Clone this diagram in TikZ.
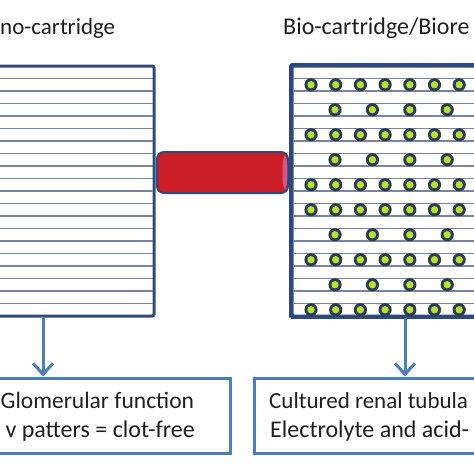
\documentclass[tikz,border=0pt]{standalone}
\usepackage{fontspec}
\setmainfont{Carlito}
\usepackage{xcolor}
\usepackage{tikz}
\usetikzlibrary{arrows.meta, positioning, calc}

\definecolor{cartblue}{HTML}{2E4A7D}
\definecolor{stripe}{HTML}{7884A6}
\definecolor{linkblue}{HTML}{4A7EBE}
\definecolor{tubered}{HTML}{CC1E26}
\definecolor{tubecap}{HTML}{D9557A}
\definecolor{cellring}{HTML}{2A3B55}
\definecolor{cellcore}{HTML}{B9E22C}
\definecolor{inktext}{HTML}{1F1F1F}

\begin{document}
\begin{tikzpicture}[x=1pt, y=-1pt,
    cartbox/.style={rectangle, draw=cartblue, line width=3pt, rounded corners=2pt, minimum width=#1, minimum height=250pt, inner sep=0pt},
    infobox/.style={rectangle, draw=linkblue, line width=3pt, minimum width=#1, minimum height=75pt, inner sep=0pt},
    title/.style={font=\fontsize{23}{27}\selectfont, text=inktext, inner sep=0pt},
    info/.style={font=\fontsize{24}{28}\selectfont, text=inktext, inner sep=0pt},
    stripeline/.style={draw=stripe, line width=1.5pt},
    arrow/.style={line width=3pt, draw=linkblue, -{Straight Barb[length=11pt, width=20pt]}}
]
    \useasboundingbox (0,0) rectangle (474,474);

    % Titles
    \node (nanotitle) [title, anchor=base west] at (0,34) {no-cartridge};
    \node (biotitle) [title, font=\fontsize{24}{28}\selectfont, anchor=base west] at (283,34) {Bio-cartridge/Biore};

    % Left cartridge: plain fibres
    \node (nanobox) [cartbox=176pt] at (66,191) {};
    \foreach \k in {1,...,19}
        \draw [stripeline] (-20,66+12.5*\k) -- (153,66+12.5*\k);

    % Right cartridge: fibres with cultured cells
    \node (biobox) [cartbox=200pt] at (392,191) {};
    \foreach \k in {1,...,19}
        \draw [stripeline] (293,66+12.5*\k) -- (490,66+12.5*\k);
    \foreach \j in {0,2,4,5,7,9}
        \foreach \i in {0,...,7}
        {
            \fill [cellring] (311+24.7*\i,84.75+25*\j) circle (6.6pt);
            \fill [cellcore] (311+24.7*\i,84.75+25*\j) circle (3.7pt);
        }
    \foreach \j in {1,3,6,8}
        \foreach \i in {0,...,4}
        {
            \fill [cellring] (335+37.4*\i,84.75+25*\j) circle (6.6pt);
            \fill [cellcore] (335+37.4*\i,84.75+25*\j) circle (3.7pt);
        }
    \draw [cartblue, line width=3pt, rounded corners=2pt] (biobox.south west) -- (biobox.north west) -- (biobox.north east);
    \draw [cartblue, line width=3pt] (biobox.south west) -- (biobox.south east);

    % Connecting tube
    \node (tube) [rectangle, rounded corners=7pt, draw=cartblue, line width=2pt, fill=tubered, minimum width=131pt, minimum height=41pt, inner sep=0pt] at (222.5,172.5) {};
    \fill [tubecap] ([xshift=-4pt]tube.east) ellipse (2.5pt and 17pt);

    % Result boxes
    \node (glombox) [infobox=252pt] at (104,415.5) {};
    \node (tubbox) [infobox=250pt] at (379,415.5) {};

    \node (glom1) [info, font=\fontsize{23.5}{28}\selectfont, anchor=base west] at (0.5,408) {Glomerular function};
    \node (glom2) [info, anchor=base east] at (195,437) {v patters = clot-free};
    \node (tub1) [info, font=\fontsize{23}{28}\selectfont, anchor=base west] at (269,408) {Cultured renal tubula};
    \node (tub2) [info, anchor=base west] at (270,437) {Electrolyte and acid-};

    % Connecting arrows
    \draw [arrow] ([xshift=-23pt]nanobox.south) -- ([xshift=-23pt]nanobox.south |- glombox.north);
    \draw [arrow] ([xshift=13pt]biobox.south) -- ([xshift=13pt]biobox.south |- tubbox.north);

\end{tikzpicture}
\end{document}
